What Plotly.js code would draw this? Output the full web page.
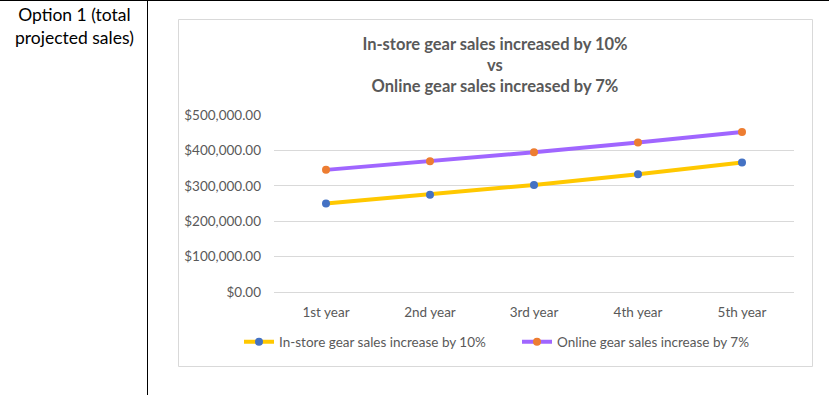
<!DOCTYPE html>
<html><head><meta charset="utf-8">
<script src="https://cdn.plot.ly/plotly-3.0.1.min.js"></script>
<style>html,body{margin:0;padding:0;background:#fff;overflow:hidden}#chart{width:829px;height:395px}</style>
</head><body><div id="chart"></div>
<script>
const categories = ['1st year', '2nd year', '3rd year', '4th year', '5th year'];
const instoreSales = [250000, 275000, 302500, 332750, 366025];
const onlineSales = [345000, 369150, 394990, 422640, 452225];
const seriesNames = ['In-store gear sales increase by 10%', 'Online gear sales increase by 7%'];
const yTickValues = [0, 100000, 200000, 300000, 400000, 500000];
const chartTitle = 'In-store gear sales increased by 10%<br>vs<br>Online gear sales increased by 7%';
const cellLabel = 'Option 1 (total<br>projected sales)';

const W = 829, H = 395, L = 274, R = 794, T = 115, B = 292;
const px2x = p => (p - L) / (R - L);
const px2y = p => (B - p) / (B - T);
const FONT = 'Lato, "Noto Sans", sans-serif';
const GREY = '#595959';
const SMALL = 13.5;

const traces = [
  {x: categories, y: instoreSales, name: seriesNames[0], type: 'scatter', mode: 'lines+markers',
   line: {color: '#FFC800', width: 4}, marker: {color: '#4472C4', size: 8}},
  {x: categories, y: onlineSales, name: seriesNames[1], type: 'scatter', mode: 'lines+markers',
   line: {color: '#A066FF', width: 4}, marker: {color: '#ED7D31', size: 8}}
];

const layout = {
  width: W, height: H,
  margin: {l: L, r: W - R, t: T, b: H - B, pad: 0},
  paper_bgcolor: '#fff', plot_bgcolor: '#fff',
  font: {family: FONT, color: GREY, size: SMALL},
  showlegend: true,
  title: {text: chartTitle, font: {family: FONT, size: 16.5, color: GREY, weight: 'bold'},
          x: 495 / W, xanchor: 'center', xref: 'container',
          y: 1 - 49.5 / H, yanchor: 'middle', yref: 'container'},
  xaxis: {type: 'category', range: [-0.5, 4.5], showgrid: false, zeroline: false, showline: false,
          ticks: '', tickfont: {family: FONT, size: SMALL, color: GREY}, ticklabelstandoff: 10, fixedrange: true},
  yaxis: {range: [0, 500000], tickvals: yTickValues, tickformat: '$,.2f', showgrid: true, gridcolor: '#D9D9D9',
          gridwidth: 1, zeroline: true, zerolinecolor: '#D9D9D9', zerolinewidth: 1, showline: false, ticks: '',
          tickfont: {family: FONT, size: SMALL, color: GREY}, ticklabelstandoff: 12, fixedrange: true},
  legend: {orientation: 'h', x: px2x(239), xanchor: 'left', y: px2y(342), yanchor: 'middle',
           entrywidth: 233, entrywidthmode: 'pixels',
           font: {family: FONT, size: SMALL, color: GREY}, bgcolor: 'rgba(0,0,0,0)'},
  shapes: [
    {type: 'line', xref: 'paper', yref: 'paper', x0: px2x(0), x1: px2x(W), y0: px2y(0.5), y1: px2y(0.5),
     line: {color: '#000', width: 1}},
    {type: 'line', xref: 'paper', yref: 'paper', x0: px2x(147.5), x1: px2x(147.5), y0: px2y(0), y1: px2y(H),
     line: {color: '#000', width: 1}},
    {type: 'rect', xref: 'paper', yref: 'paper', x0: px2x(178.5), x1: px2x(812.5), y0: px2y(19.5), y1: px2y(366.5),
     line: {color: '#D9D9D9', width: 1}, layer: 'below'}
  ],
  annotations: [
    {text: cellLabel, xref: 'paper', yref: 'paper', x: px2x(74), y: px2y(26), xanchor: 'center', yanchor: 'middle',
     showarrow: false, align: 'center', font: {family: FONT, size: 17.5, color: '#000'}}
  ]
};

Plotly.newPlot('chart', traces, layout, {staticPlot: true, displayModeBar: false});
</script></body></html>
